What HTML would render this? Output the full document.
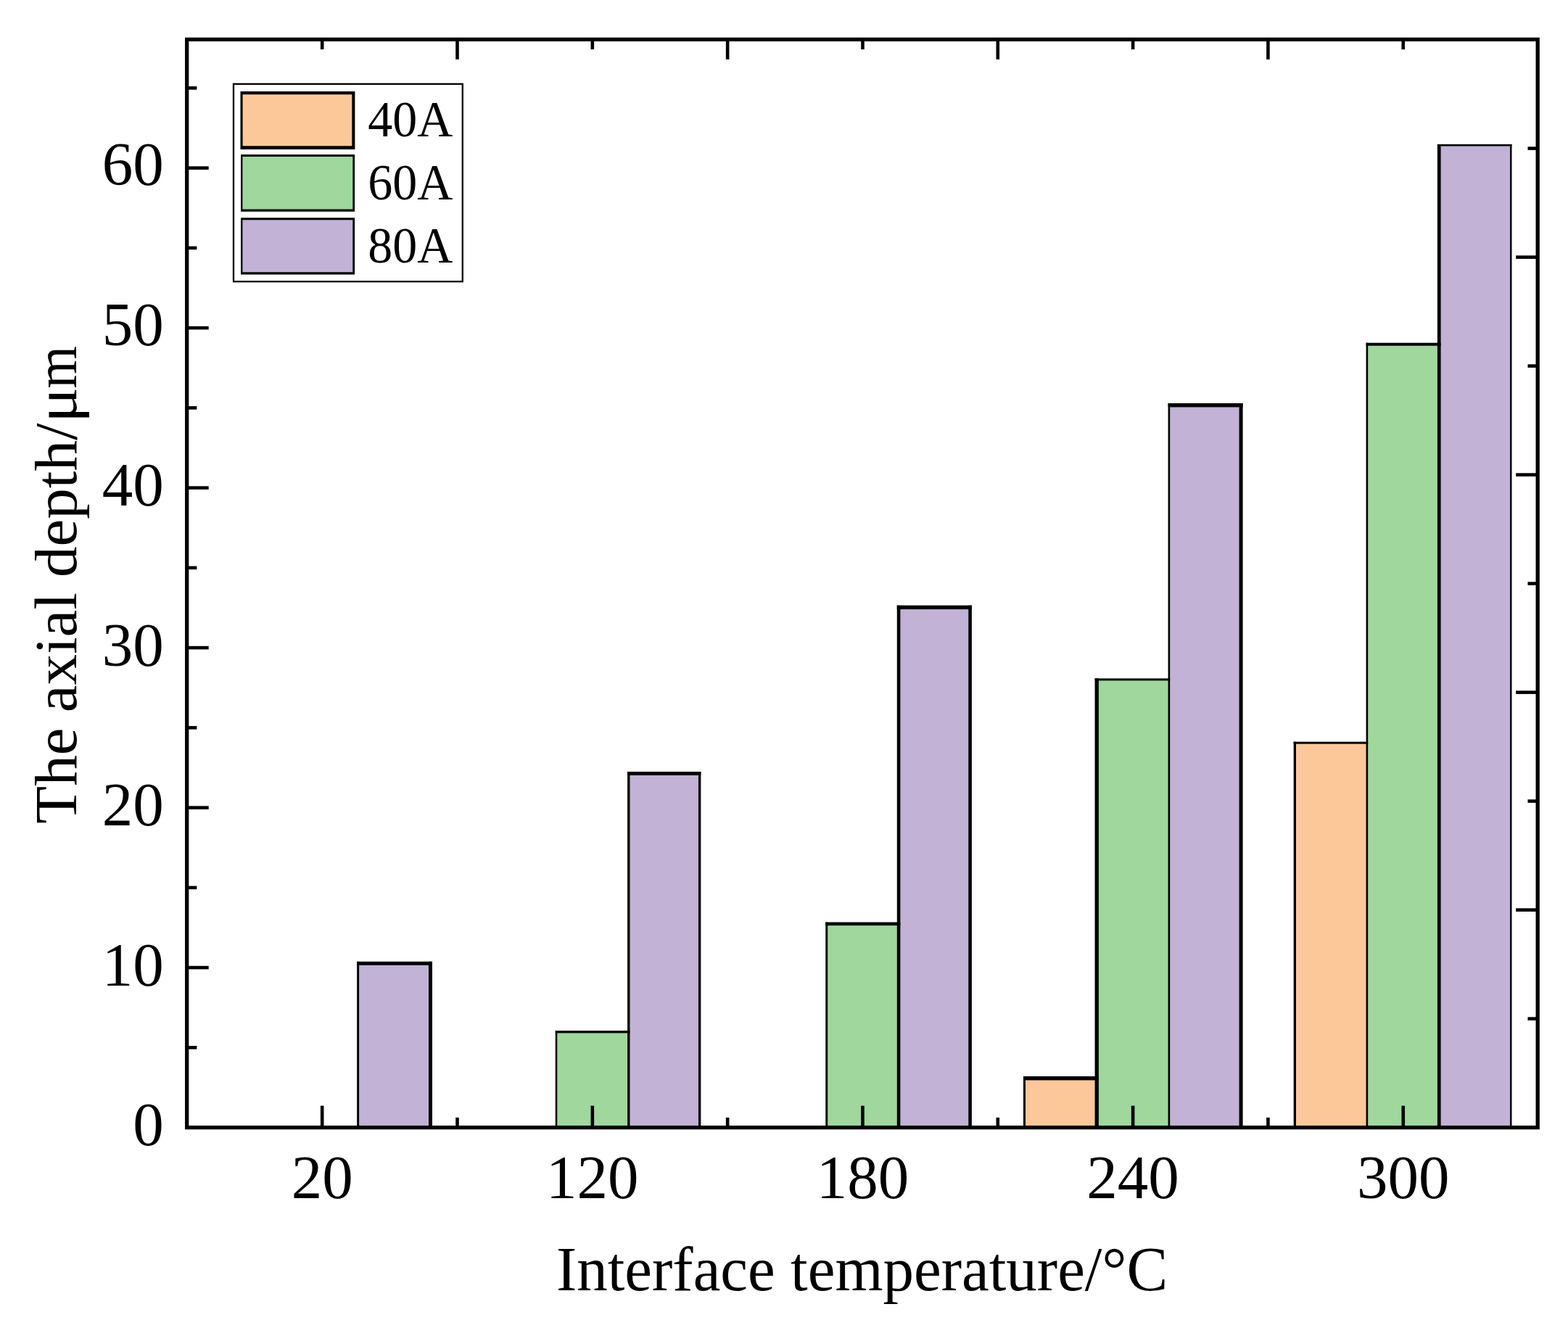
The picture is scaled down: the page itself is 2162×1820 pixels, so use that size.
<!DOCTYPE html><html><head><meta charset="utf-8"><title>Axial depth vs interface temperature</title>
<style>html,body{margin:0;padding:0;background:#fff;width:2162px;height:1820px;overflow:hidden}svg{display:block}text{font-family:"Liberation Serif","Times New Roman",serif;fill:#000}</style></head><body>
<svg width="2162" height="1820" viewBox="0 0 2162 1820">
<rect x="0" y="0" width="2162" height="1820" fill="#fff"/>
<g stroke="none">
<rect x="493.65" y="1328.30" width="99.85" height="226.30" fill="#C1B2D6"/>
<rect x="767.05" y="1422.75" width="99.75" height="131.85" fill="#9FD79C"/>
<rect x="866.80" y="1066.50" width="97.90" height="488.10" fill="#C1B2D6"/>
<rect x="1139.75" y="1273.80" width="99.35" height="280.80" fill="#9FD79C"/>
<rect x="1239.10" y="837.40" width="98.50" height="717.20" fill="#C1B2D6"/>
<rect x="1412.50" y="1486.70" width="99.75" height="67.90" fill="#FCC899"/>
<rect x="1512.25" y="936.90" width="99.65" height="617.70" fill="#9FD79C"/>
<rect x="1611.90" y="558.70" width="99.20" height="995.90" fill="#C1B2D6"/>
<rect x="1785.35" y="1024.20" width="99.55" height="530.40" fill="#FCC899"/>
<rect x="1884.90" y="474.70" width="99.35" height="1079.90" fill="#9FD79C"/>
<rect x="1984.25" y="200.20" width="99.00" height="1354.40" fill="#C1B2D6"/>
</g><g fill="#000">
<rect x="492.20" y="1325.80" width="2.90" height="228.80"/>
<rect x="591.00" y="1325.80" width="5.00" height="228.80"/>
<rect x="492.20" y="1325.80" width="103.80" height="5.00"/>
<rect x="765.80" y="1421.10" width="2.50" height="133.50"/>
<rect x="865.10" y="1064.00" width="3.40" height="490.60"/>
<rect x="963.00" y="1064.00" width="3.40" height="490.60"/>
<rect x="765.80" y="1421.10" width="102.70" height="3.30"/>
<rect x="865.10" y="1064.00" width="101.30" height="5.00"/>
<rect x="1138.30" y="1271.50" width="2.90" height="283.10"/>
<rect x="1236.80" y="834.70" width="4.60" height="719.90"/>
<rect x="1335.30" y="834.70" width="4.60" height="719.90"/>
<rect x="1138.30" y="1271.50" width="103.10" height="4.60"/>
<rect x="1236.80" y="834.70" width="103.10" height="5.40"/>
<rect x="1411.00" y="1484.00" width="3.00" height="70.60"/>
<rect x="1509.60" y="935.40" width="5.30" height="619.20"/>
<rect x="1610.60" y="556.00" width="2.60" height="998.60"/>
<rect x="1708.60" y="556.00" width="5.00" height="998.60"/>
<rect x="1411.00" y="1484.00" width="103.90" height="5.40"/>
<rect x="1509.60" y="935.40" width="103.60" height="3.00"/>
<rect x="1610.60" y="556.00" width="103.00" height="5.40"/>
<rect x="1783.70" y="1022.70" width="3.30" height="531.90"/>
<rect x="1883.60" y="472.70" width="2.60" height="1081.90"/>
<rect x="1981.90" y="198.90" width="4.70" height="1355.70"/>
<rect x="2082.00" y="198.90" width="2.50" height="1355.70"/>
<rect x="1783.70" y="1022.70" width="102.50" height="3.00"/>
<rect x="1883.60" y="472.70" width="103.00" height="4.00"/>
<rect x="1981.90" y="198.90" width="102.60" height="2.60"/>
</g>
<g stroke="#000" stroke-width="4.60" fill="none">
<line x1="257.70" y1="1554.60" x2="287.70" y2="1554.60"/>
<line x1="257.70" y1="1334.10" x2="287.70" y2="1334.10"/>
<line x1="257.70" y1="1113.60" x2="287.70" y2="1113.60"/>
<line x1="257.70" y1="893.10" x2="287.70" y2="893.10"/>
<line x1="257.70" y1="672.60" x2="287.70" y2="672.60"/>
<line x1="257.70" y1="452.10" x2="287.70" y2="452.10"/>
<line x1="257.70" y1="231.60" x2="287.70" y2="231.60"/>
<line x1="257.70" y1="1444.35" x2="271.40" y2="1444.35"/>
<line x1="257.70" y1="1223.85" x2="271.40" y2="1223.85"/>
<line x1="257.70" y1="1003.35" x2="271.40" y2="1003.35"/>
<line x1="257.70" y1="782.85" x2="271.40" y2="782.85"/>
<line x1="257.70" y1="562.35" x2="271.40" y2="562.35"/>
<line x1="257.70" y1="341.85" x2="271.40" y2="341.85"/>
<line x1="257.70" y1="121.35" x2="271.40" y2="121.35"/>
<line x1="2090.20" y1="1554.60" x2="2120.20" y2="1554.60"/>
<line x1="2106.50" y1="1404.60" x2="2120.20" y2="1404.60"/>
<line x1="2090.20" y1="1254.60" x2="2120.20" y2="1254.60"/>
<line x1="2106.50" y1="1104.60" x2="2120.20" y2="1104.60"/>
<line x1="2090.20" y1="954.60" x2="2120.20" y2="954.60"/>
<line x1="2106.50" y1="804.60" x2="2120.20" y2="804.60"/>
<line x1="2090.20" y1="654.60" x2="2120.20" y2="654.60"/>
<line x1="2106.50" y1="504.60" x2="2120.20" y2="504.60"/>
<line x1="2090.20" y1="354.60" x2="2120.20" y2="354.60"/>
<line x1="2106.50" y1="204.60" x2="2120.20" y2="204.60"/>
<line x1="444.20" y1="1554.60" x2="444.20" y2="1524.60"/>
<line x1="444.20" y1="54.40" x2="444.20" y2="68.10"/>
<line x1="630.52" y1="1554.60" x2="630.52" y2="1540.90"/>
<line x1="630.52" y1="54.40" x2="630.52" y2="81.90"/>
<line x1="816.84" y1="1554.60" x2="816.84" y2="1524.60"/>
<line x1="816.84" y1="54.40" x2="816.84" y2="68.10"/>
<line x1="1003.16" y1="1554.60" x2="1003.16" y2="1540.90"/>
<line x1="1003.16" y1="54.40" x2="1003.16" y2="81.90"/>
<line x1="1189.48" y1="1554.60" x2="1189.48" y2="1524.60"/>
<line x1="1189.48" y1="54.40" x2="1189.48" y2="68.10"/>
<line x1="1375.80" y1="1554.60" x2="1375.80" y2="1540.90"/>
<line x1="1375.80" y1="54.40" x2="1375.80" y2="81.90"/>
<line x1="1562.12" y1="1554.60" x2="1562.12" y2="1524.60"/>
<line x1="1562.12" y1="54.40" x2="1562.12" y2="68.10"/>
<line x1="1748.44" y1="1554.60" x2="1748.44" y2="1540.90"/>
<line x1="1748.44" y1="54.40" x2="1748.44" y2="81.90"/>
<line x1="1934.76" y1="1554.60" x2="1934.76" y2="1524.60"/>
<line x1="1934.76" y1="54.40" x2="1934.76" y2="68.10"/>
</g>
<rect x="257.70" y="54.40" width="1862.50" height="1500.20" fill="none" stroke="#000" stroke-width="5.30"/>
<g font-size="85" text-anchor="end">
<text x="225.8" y="1579.40">0</text>
<text x="225.8" y="1358.90">10</text>
<text x="225.8" y="1138.30">20</text>
<text x="225.8" y="917.90">30</text>
<text x="225.8" y="696.90">40</text>
<text x="225.8" y="475.85">50</text>
<text x="225.8" y="254.60">60</text>
</g>
<g font-size="85" text-anchor="middle">
<text x="444.20" y="1652">20</text>
<text x="816.84" y="1652">120</text>
<text x="1189.48" y="1652">180</text>
<text x="1562.12" y="1652">240</text>
<text x="1934.76" y="1652">300</text>
</g>
<text transform="translate(766.9 1778.5) scale(1 1.02)" x="0" y="0" font-size="85">Interface temperature/°C</text>
<text transform="translate(104.90 1135.7) rotate(-90) scale(1 0.975)" font-size="85">The axial depth/</text>
<text transform="translate(104.90 582.7) rotate(-90) scale(1.07 0.975)" font-size="85">μ</text>
<text transform="translate(104.90 535.6) rotate(-90) scale(0.883 0.975)" font-size="85">m</text>
<rect x="322" y="115.8" width="315.8" height="272.4" fill="#fff" stroke="#000" stroke-width="2.3"/>
<rect x="333.05" y="128.10" width="154.30" height="75.55" fill="#FCC899"/>
<path fill="#000" d="M331.50 125.90H489.40V130.30H331.50ZM331.50 201.30H489.40V206.00H331.50ZM331.50 125.90H334.60V206.00H331.50ZM485.30 125.90H489.40V206.00H485.30Z"/>
<rect x="333.25" y="214.45" width="154.45" height="75.65" fill="#9FD79C"/>
<path fill="#000" d="M332.10 213.00H489.10V215.90H332.10ZM332.10 288.40H489.10V291.80H332.10ZM332.10 213.00H334.40V291.80H332.10ZM486.30 213.00H489.10V291.80H486.30Z"/>
<rect x="333.25" y="301.75" width="154.45" height="75.15" fill="#C1B2D6"/>
<path fill="#000" d="M332.10 300.30H489.10V303.20H332.10ZM332.10 375.20H489.10V378.60H332.10ZM332.10 300.30H334.40V378.60H332.10ZM486.30 300.30H489.10V378.60H486.30Z"/>
<text transform="translate(507.2 187.70) scale(1 1.02)" font-size="68">40A</text>
<text transform="translate(507.2 274.90) scale(1 1.02)" font-size="68">60A</text>
<text transform="translate(507.2 362.10) scale(1 1.02)" font-size="68">80A</text>
</svg></body></html>
